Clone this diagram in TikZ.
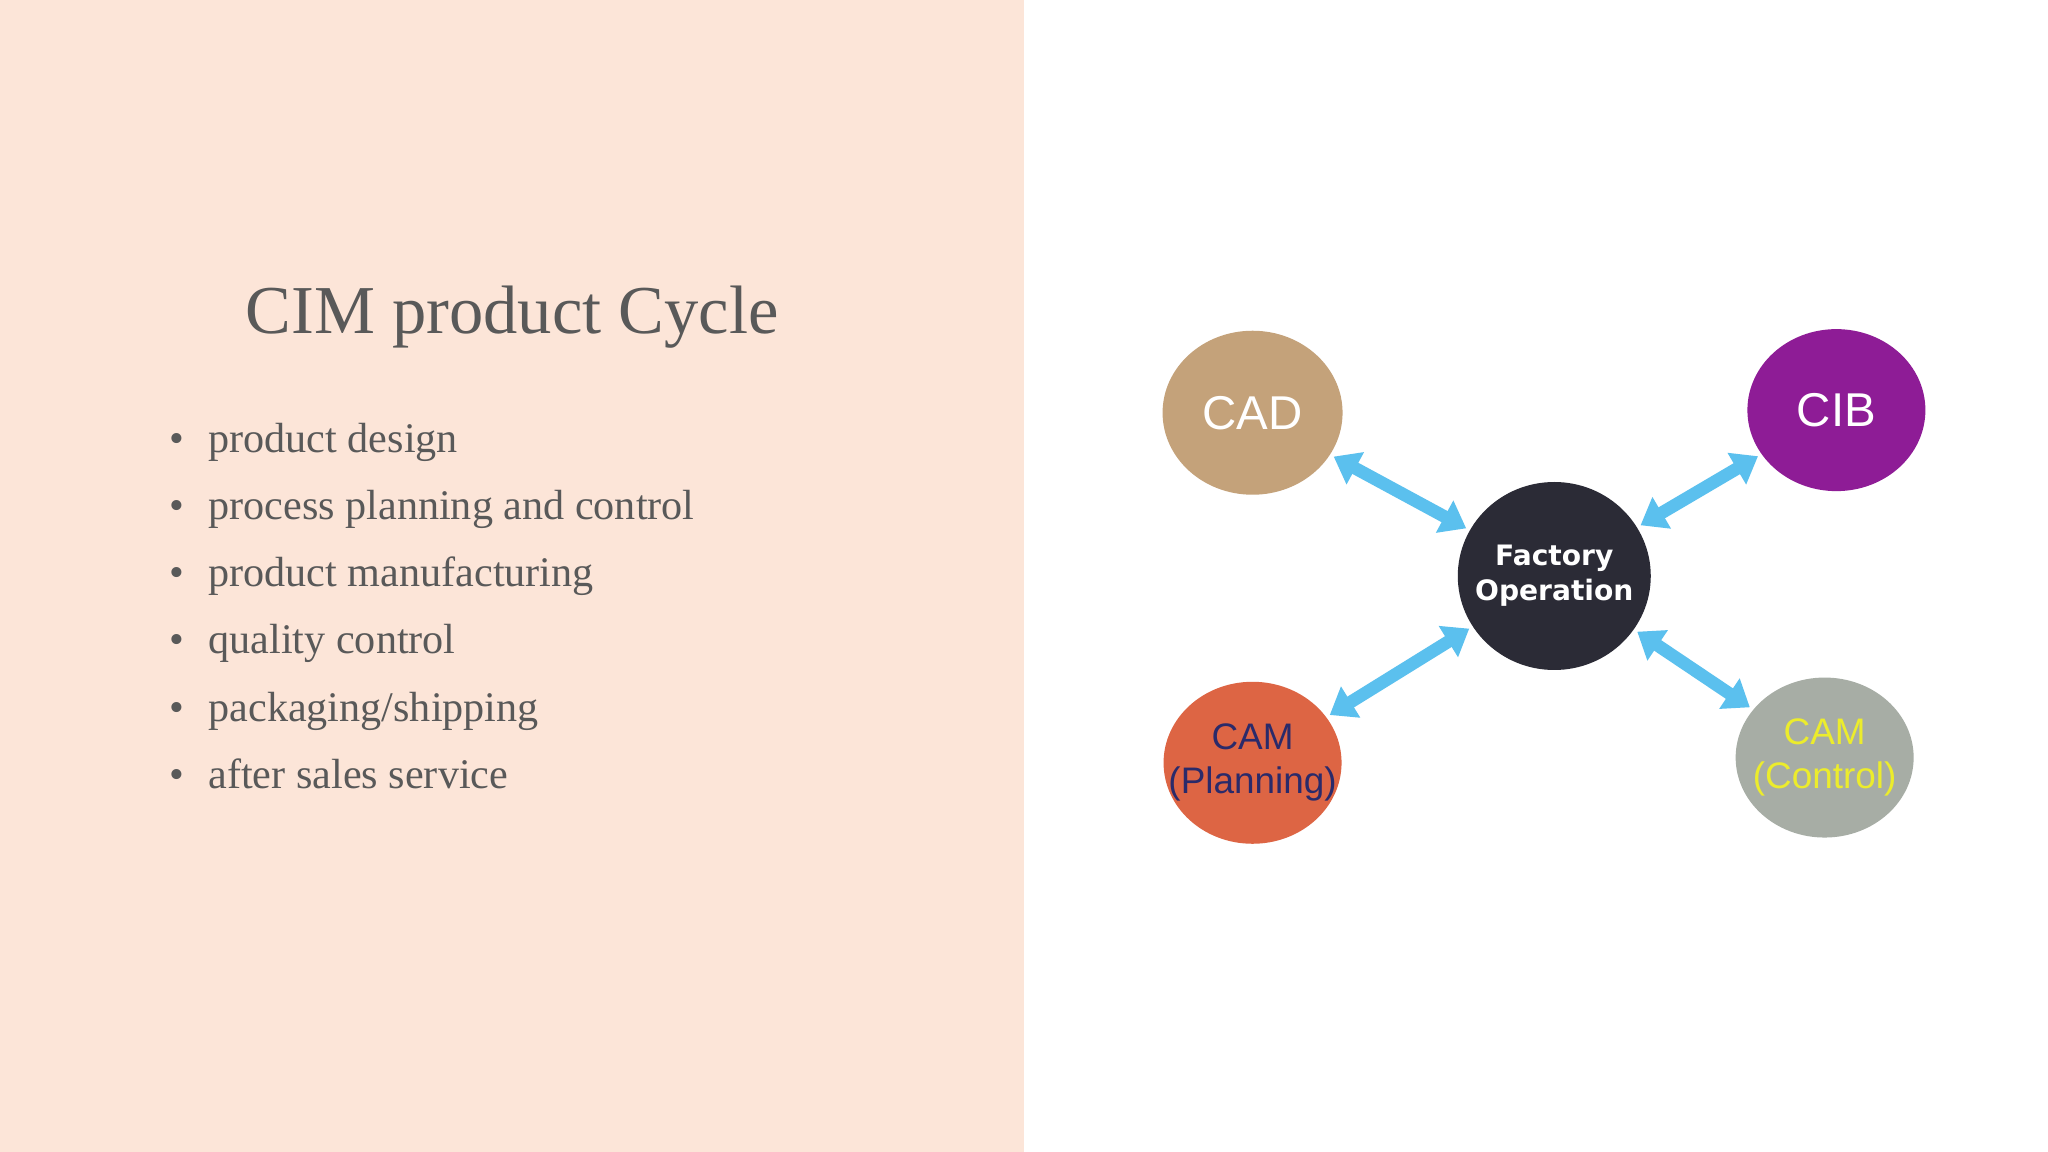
\documentclass[tikz,border=0pt]{standalone}
\usepackage{fontspec}
\setmainfont{Liberation Serif}
\newfontfamily\lsans{Liberation Sans}
\newfontfamily\dsans{DejaVu Sans}
\usetikzlibrary{arrows.meta,shapes.geometric}
\definecolor{pinkbg}{HTML}{FCE5D8}
\definecolor{txtgray}{HTML}{595959}
\definecolor{cadc}{HTML}{C4A27A}
\definecolor{cibc}{HTML}{8E1C96}
\definecolor{foc}{HTML}{2B2B36}
\definecolor{campc}{HTML}{DD6544}
\definecolor{camcc}{HTML}{A7ADA5}
\definecolor{yel}{HTML}{ECEC2C}
\definecolor{navy}{HTML}{2A2A6A}
\definecolor{arrowc}{HTML}{5BC0EE}
\begin{document}
\begin{tikzpicture}[x=0.013061cm,y=-0.013061cm,
  blob/.style={ellipse,inner sep=-12pt,font=\lsans\fontsize{13.5}{16}\selectfont,align=center},
  link/.style={draw=arrowc,line width=3.6pt,{Triangle[width=10pt,length=7pt]}-{Triangle[width=10pt,length=7pt]},shorten <=1pt,shorten >=1pt},
  bullet/.style={anchor=west,text=txtgray,font=\fontsize{12}{15}\selectfont}]
\useasboundingbox (0,0) rectangle (1568,882);
\fill[white] (0,0) rectangle (1568,882);
\fill[pinkbg] (0,0) rectangle (784,882);
\node[text=txtgray,font=\fontsize{19.5}{24}\selectfont] (title) at (392,243) {CIM product Cycle};
\foreach \t [count=\i] in {product design,process planning and control,product manufacturing,quality control,packaging/shipping,after sales service}{
  \node[bullet] (b\i) at (120,{338+51.5*(\i-1)}) {\textbullet\hspace{7pt}\strut\t};
}
\node[blob,fill=cadc,text=white,minimum width=1.8cm,minimum height=1.64cm] (cad) at (959,316) {CAD};
\node[blob,fill=cibc,text=white,minimum width=1.78cm,minimum height=1.62cm] (cib) at (1406,314) {CIB};
\node[blob,fill=foc,text=white,font=\dsans\bfseries\fontsize{8}{10}\selectfont,minimum width=1.93cm,minimum height=1.88cm] (fo) at (1190,441) {Factory\\Operation};
\node[blob,fill=campc,text=navy,font=\lsans\fontsize{10.5}{12.5}\selectfont,minimum width=1.78cm,minimum height=1.62cm] (camp) at (959,584) {CAM\\(Planning)};
\node[blob,fill=camcc,text=yel,font=\lsans\fontsize{10.5}{12.5}\selectfont,minimum width=1.78cm,minimum height=1.6cm] (camc) at (1397,580) {CAM\\(Control)};
\draw[link] (cad) -- (fo);
\draw[link] (cib) -- (fo);
\draw[link] (camp) -- (fo);
\draw[link] (camc) -- (fo);
\end{tikzpicture}
\end{document}
